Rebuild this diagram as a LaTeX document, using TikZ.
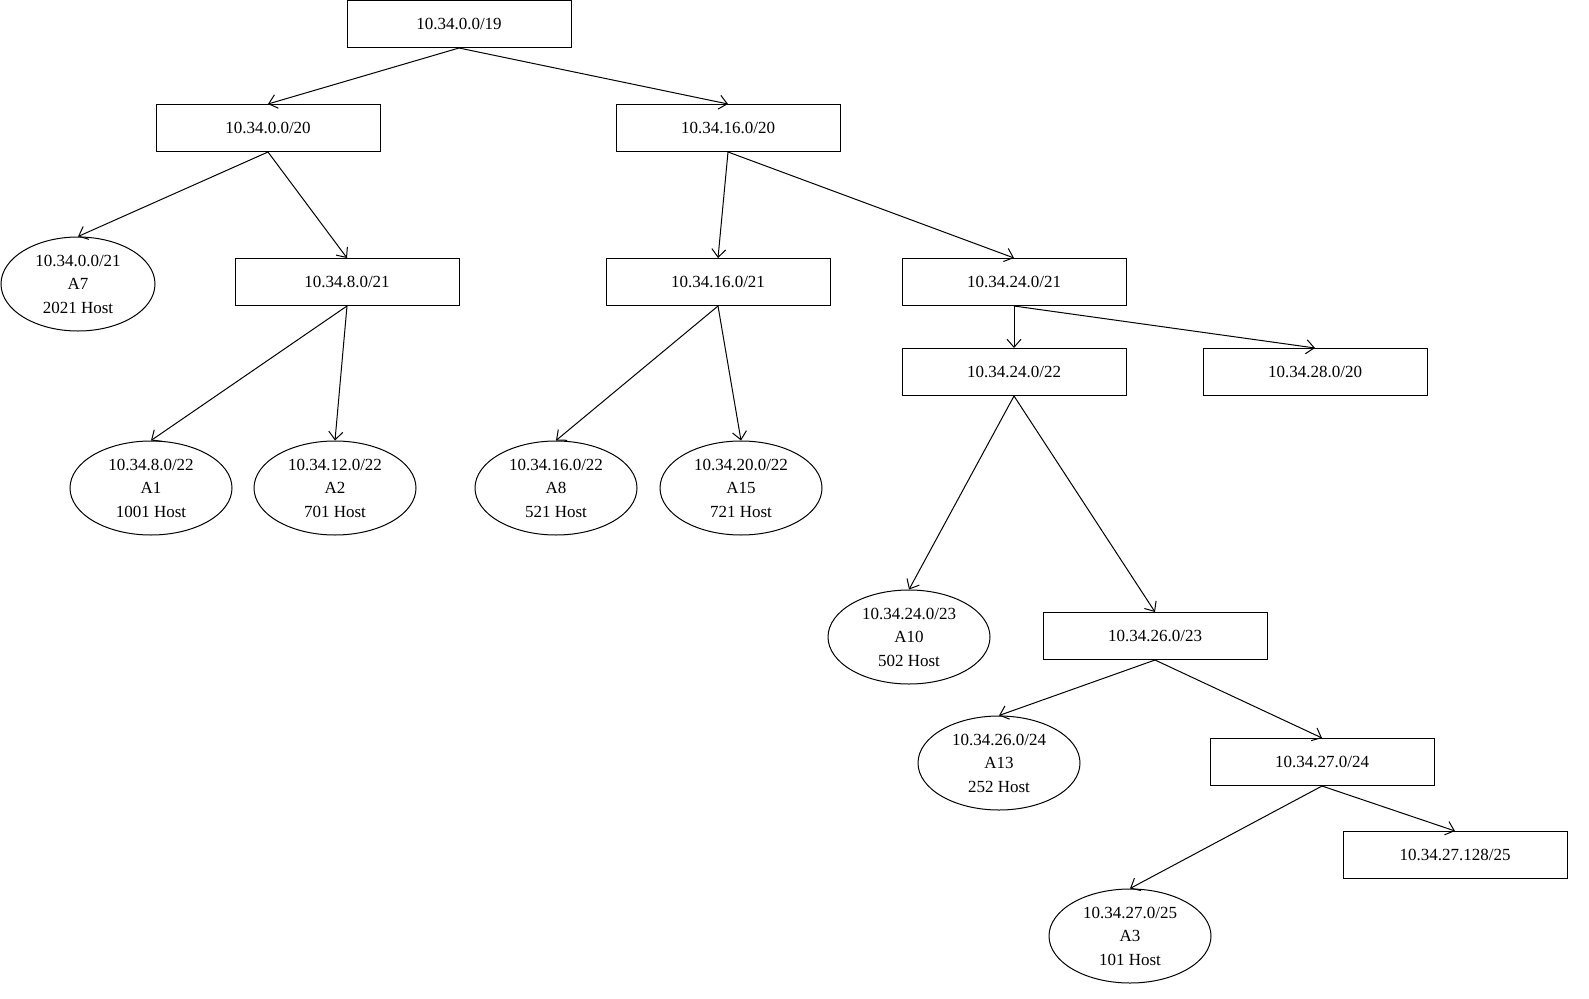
\documentclass[tikz,border=0pt]{standalone}
\usepackage{fontspec}
\setmainfont{Liberation Serif}
\usetikzlibrary{shapes.geometric,arrows.meta}
\begin{document}
\begin{tikzpicture}[x=1pt,y=-1pt,line width=1pt,
  box/.style={draw,minimum width=224pt,minimum height=47pt,inner sep=0pt,font=\fontsize{17}{20}\selectfont},
  ell/.style={draw,ellipse,minimum width=162pt,minimum height=94pt,inner sep=0pt,align=center,font=\fontsize{17}{23.5}\selectfont},
  arr/.style={-{Straight Barb[length=8pt,width=14pt]}}]
\useasboundingbox (0,0) rectangle (1589,998);
\node[box] (r) at (459,24) {10.34.0.0/19};
\node[box] (a) at (268,128) {10.34.0.0/20};
\node[box] (b) at (728,128) {10.34.16.0/20};
\node[ell,minimum width=154pt] (a7) at (78,284) {10.34.0.0/21\\A7\\2021 Host};
\node[box] (c) at (347,282) {10.34.8.0/21};
\node[box] (d) at (718,282) {10.34.16.0/21};
\node[box] (e) at (1014,282) {10.34.24.0/21};
\node[box] (f) at (1014,372) {10.34.24.0/22};
\node[box] (g) at (1315,372) {10.34.28.0/20};
\node[ell] (a1) at (151,488) {10.34.8.0/22\\A1\\1001 Host};
\node[ell] (a2) at (335,488) {10.34.12.0/22\\A2\\701 Host};
\node[ell] (a8) at (556,488) {10.34.16.0/22\\A8\\521 Host};
\node[ell] (a15) at (741,488) {10.34.20.0/22\\A15\\721 Host};
\node[ell] (a10) at (909,637) {10.34.24.0/23\\A10\\502 Host};
\node[box] (h) at (1155,636) {10.34.26.0/23};
\node[ell] (a13) at (999,763) {10.34.26.0/24\\A13\\252 Host};
\node[box] (i) at (1322,762) {10.34.27.0/24};
\node[box] (j) at (1455,855) {10.34.27.128/25};
\node[ell] (a3) at (1130,936) {10.34.27.0/25\\A3\\101 Host};
\draw[arr] (r.south) -- (a.north);
\draw[arr] (r.south) -- (b.north);
\draw[arr] (a.south) -- (a7.north);
\draw[arr] (a.south) -- (c.north);
\draw[arr] (b.south) -- (d.north);
\draw[arr] (b.south) -- (e.north);
\draw[arr] (c.south) -- (a1.north);
\draw[arr] (c.south) -- (a2.north);
\draw[arr] (d.south) -- (a8.north);
\draw[arr] (d.south) -- (a15.north);
\draw[arr] (e.south) -- (f.north);
\draw[arr] (e.south) -- (g.north);
\draw[arr] (f.south) -- (a10.north);
\draw[arr] (f.south) -- (h.north);
\draw[arr] (h.south) -- (a13.north);
\draw[arr] (h.south) -- (i.north);
\draw[arr] (i.south) -- (a3.north);
\draw[arr] (i.south) -- (j.north);
\end{tikzpicture}
\end{document}
